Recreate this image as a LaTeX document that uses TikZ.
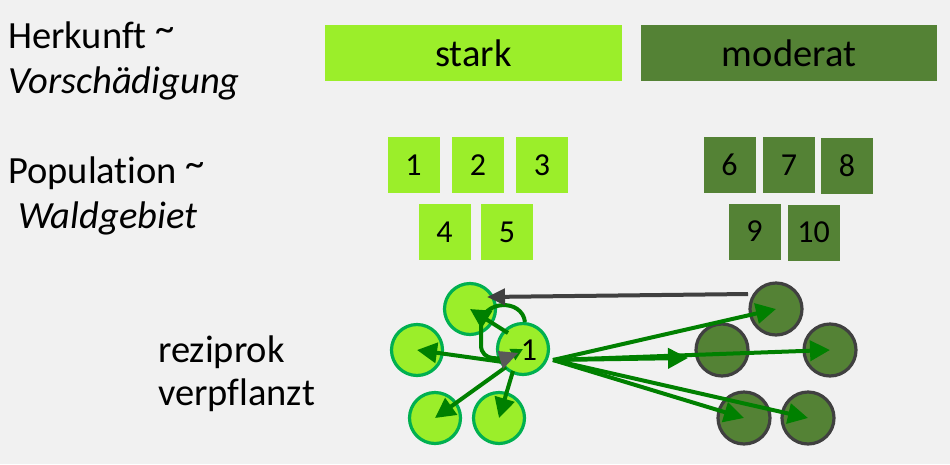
\documentclass[tikz,border=0pt]{standalone}
\usepackage{fontspec}
\setmainfont{Carlito}[Ligatures=NoCommon]
\usetikzlibrary{arrows.meta}
\definecolor{bg}{RGB}{241,241,241}
\definecolor{lgreen}{RGB}{155,238,42}
\definecolor{dgreen}{RGB}{84,130,53}
\definecolor{ring}{RGB}{0,176,80}
\definecolor{arr}{RGB}{0,128,0}
\definecolor{dgray}{RGB}{64,64,64}
\definecolor{tgray}{RGB}{89,89,89}
\newcommand{\hightilde}{\raisebox{7pt}{\textasciitilde}}
\begin{document}
\begin{tikzpicture}[x=1pt,y=-1pt,
  lbl/.style={anchor=base west, inner sep=0pt, font=\fontsize{38.5pt}{46pt}\selectfont},
  hdr/.style={rectangle, inner sep=0pt, minimum height=56pt, font=\fontsize{38.5pt}{46pt}\selectfont},
  num/.style={rectangle, inner sep=0pt, minimum width=52pt, minimum height=56pt, font=\fontsize{32pt}{38pt}\selectfont},
  lbox/.style={num, fill=lgreen},
  dbox/.style={num, fill=dgreen},
  lcirc/.style={circle, inner sep=0pt, minimum size=51pt, fill=lgreen, draw=ring, line width=3.2pt},
  dcirc/.style={circle, inner sep=0pt, minimum size=52pt, fill=dgreen, draw=dgray, line width=3.2pt},
  garr/.style={draw=arr, line width=4pt, -{Triangle[length=20pt,width=20pt]}},
  sarr/.style={draw=arr, line width=4pt, -{Triangle[length=12pt,width=12pt]}},
  grayarr/.style={draw=dgray, line width=4pt, -{Triangle[length=18pt,width=16pt]}}
]
\useasboundingbox (0,0) rectangle (950,464);
\fill[bg] (0,0) rectangle (950,464);

% left labels
\node[lbl] (t1) at (8,48) {Herkunft \hightilde};
\node[lbl] (t2) at (8,93) {\itshape Vorschädigung};
\node[lbl] (t3) at (8,183) {Population \hightilde};
\node[lbl] (t4) at (18,228) {\itshape Waldgebiet};
\node[lbl] (t5) at (158,362) {reziprok};
\node[lbl] (t6) at (158,405) {verpflanzt};

% headers
\node[hdr, fill=lgreen, minimum width=297pt] (hs) at (473.5,53) {stark};
\node[hdr, fill=dgreen, minimum width=296pt] (hm) at (789,53) {moderat};

% population boxes
\node[lbox] (b1) at (413.5,165) {1};
\node[lbox] (b2) at (478,165) {2};
\node[lbox] (b3) at (542,165) {3};
\node[lbox] (b4) at (444.5,232) {4};
\node[lbox] (b5) at (507,232) {5};
\node[dbox] (b6) at (729.5,165) {6};
\node[dbox] (b7) at (789,165) {7};
\node[dbox] (b8) at (847,166) {8};
\node[dbox] (b9) at (754.5,231.5) {9};
\node[dbox] (b10) at (813.5,232.5) {10};

% circles
\node[lcirc] (cT) at (470,309) {};
\node[lcirc] (cL) at (417,350) {};
\node[lcirc] (c1) at (523,349) {};
\node[lcirc] (cBL) at (435,418) {};
\node[lcirc] (cBR) at (499,418) {};
\node[font=\fontsize{32pt}{38pt}\selectfont, inner sep=0pt] (n1) at (529,350) {1};

\node[dcirc] (dT) at (776,309) {};
\node[dcirc] (dML) at (722,350) {};
\node[dcirc] (dMR) at (830,350) {};
\node[dcirc] (dBL) at (744,418) {};
\node[dcirc] (dBR) at (808,418) {};

% coordinates
\coordinate (oL) at (503,362);
\coordinate (oBL) at (506,367);
\coordinate (oBR) at (513,371);
\coordinate (oT) at (508,333);
\coordinate (oR) at (553,360);
\coordinate (tML) at (688,358);
\coordinate (gs) at (748,294);
\coordinate (gt) at (487,297);
\coordinate (ls) at (525,322);

% green arrows left
\draw[garr] (oT) -- (cT.center);
\draw[garr] (oL) -- (cL.center);
\draw[garr] (oBL) -- (cBL.center);
\draw[garr] (oBR) -- (cBR.center);
\draw[sarr] (ls) .. controls (522,298) and (482,300) .. (481,325) -- (481,345) .. controls (481,362) and (502,360) .. (c1.center);

% green arrows right
\draw[garr] (oR) -- (dT.center);
\draw[garr] (oR) -- (tML);
\draw[garr] (oR) -- (dMR.center);
\draw[garr] (oR) -- (dBL.center);
\draw[garr] (oR) -- (dBR.center);

% gray arrow
\draw[grayarr] (gs) -- (gt);
\fill[tgray] (497.5,351) -- (518,353) -- (503,369) -- cycle;
\end{tikzpicture}
\end{document}
